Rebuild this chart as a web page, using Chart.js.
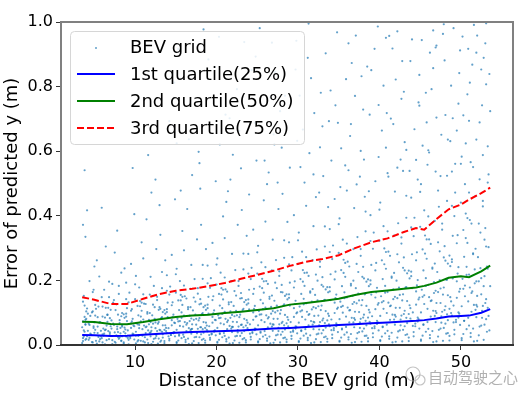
<!DOCTYPE html>
<html>
<head>
<meta charset="utf-8">
<script src="https://cdn.jsdelivr.net/npm/chart.js@4.4.1/dist/chart.umd.min.js"></script>
<style>
  html, body { margin: 0; padding: 0; background: #fff; }
  #wrap { width: 522px; height: 400px; }
</style>
</head>
<body>
<div id="wrap"><canvas id="myChart" width="522" height="400"></canvas></div>
<script>
// BEV grid cells: distance (m), error of predicted y (m) -- flat x,y pairs
var bevGridXY = [
  3.6,.012, 4.1,.027, 5.3,.004, 6.8,.018, 7.9,.025, 4.7,.009, 5.9,.021, 3.9,.016, 7.2,.003, 8.3,.014, 6.1,.029, 4.4,.022, 5.6,.011, 7.6,.007, 3.7,.026, 6.5,.015, 8.0,.019,
  3.8,.041, 4.9,.058, 6.2,.035, 7.4,.062, 5.1,.047, 8.2,.053, 4.3,.066, 6.9,.039, 3.5,.055, 5.8,.044, 7.1,.051, 4.6,.032, 8.4,.061, 6.4,.048, 5.4,.037, 7.8,.057, 3.9,.064,
  4.0,.081, 5.2,.112, 6.6,.094, 7.7,.126, 3.6,.073, 4.8,.104, 6.0,.088, 7.3,.131, 8.1,.077, 5.5,.119, 4.2,.097, 6.3,.085, 7.0,.109, 3.8,.122, 5.7,.071, 8.4,.099, 6.7,.115, 4.5,.090,
  3.7,.152, 4.4,.198, 5.0,.243, 6.2,.171, 7.5,.286, 8.0,.158, 3.9,.335, 5.6,.212, 6.8,.148, 4.1,.417, 7.2,.189, 5.3,.262, 8.3,.224, 3.6,.372, 6.4,.305, 4.8,.164, 7.8,.354, 3.8,.541, 5.9,.425,
  8.6,.008, 9.4,.021, 10.7,.013, 11.9,.027, 12.8,.004, 9.9,.017, 11.2,.024, 13.1,.010, 10.1,.029, 12.3,.019, 8.9,.026, 11.6,.006, 13.4,.023, 10.4,.015, 9.2,.002, 12.6,.028, 11.0,.011,
  9.1,.045, 10.5,.062, 11.8,.038, 12.9,.071, 8.7,.054, 10.9,.049, 12.2,.066, 13.3,.041, 9.6,.073, 11.4,.057, 8.8,.036, 12.5,.052, 10.2,.068, 13.0,.047, 9.8,.033, 11.1,.060, 12.0,.044,
  8.9,.088, 10.3,.121, 11.5,.097, 12.7,.139, 9.5,.106, 13.2,.083, 10.8,.131, 12.1,.092, 9.0,.114, 11.7,.078, 13.4,.102, 10.0,.142, 12.4,.117, 8.6,.095, 11.3,.127, 9.7,.081, 12.9,.109, 10.6,.136,
  9.3,.162, 10.1,.214, 11.0,.268, 12.3,.183, 13.1,.341, 8.7,.237, 9.9,.405, 11.8,.156, 12.6,.297, 10.5,.178, 13.3,.226, 11.4,.389, 9.5,.251, 12.0,.472, 10.8,.318, 8.9,.193, 11.6,.588, 13.0,.433, 9.8,.746,
  13.6,.012, 14.4,.031, 15.7,.021, 16.9,.035, 17.8,.006, 14.9,.027, 16.2,.016, 18.1,.033, 15.1,.009, 17.3,.024, 13.9,.037, 16.6,.003, 18.4,.019, 15.4,.029, 14.2,.014, 17.6,.036, 16.0,.025,
  14.1,.052, 15.5,.074, 16.8,.046, 17.9,.083, 13.7,.061, 15.9,.057, 17.2,.078, 18.3,.049, 14.6,.086, 16.4,.068, 13.8,.043, 17.5,.063, 15.2,.081, 18.0,.055, 14.8,.040, 16.1,.071, 17.0,.050,
  13.9,.102, 15.3,.138, 16.5,.111, 17.7,.159, 14.5,.123, 18.2,.096, 15.8,.149, 17.1,.107, 14.0,.131, 16.7,.091, 18.4,.117, 15.0,.162, 17.4,.134, 13.6,.108, 16.3,.144, 14.7,.094, 17.9,.126, 15.6,.155,
  14.3,.181, 15.1,.236, 16.0,.293, 17.3,.204, 18.1,.372, 13.7,.262, 14.9,.451, 16.8,.174, 17.6,.327, 15.5,.198, 18.3,.248, 16.4,.421, 14.5,.279, 17.0,.526, 15.8,.353, 13.9,.216, 16.6,.637, 18.0,.484, 14.8,.812, 17.8,.598, 15.3,.917,
  18.6,.014, 19.4,.033, 20.7,.024, 21.9,.040, 22.8,.007, 19.9,.030, 21.2,.018, 23.1,.037, 20.1,.010, 22.3,.027, 18.9,.042, 21.6,.004, 23.4,.021, 20.4,.034, 19.2,.016, 22.6,.039, 21.0,.028,
  19.1,.058, 20.5,.084, 21.8,.051, 22.9,.094, 18.7,.069, 20.9,.064, 22.2,.089, 23.3,.055, 19.6,.098, 21.4,.076, 18.8,.047, 22.5,.071, 20.2,.092, 23.0,.062, 19.8,.045, 21.1,.081, 22.0,.056,
  18.9,.114, 20.3,.158, 21.5,.126, 22.7,.183, 19.5,.139, 23.2,.108, 20.8,.171, 22.1,.121, 19.0,.149, 21.7,.104, 23.4,.133, 20.0,.187, 22.4,.153, 18.6,.122, 21.3,.165, 19.7,.107, 22.9,.144, 20.6,.176,
  19.3,.207, 20.1,.268, 21.0,.331, 22.3,.232, 23.1,.418, 18.7,.297, 19.9,.507, 21.8,.198, 22.6,.372, 20.5,.224, 23.3,.283, 21.4,.476, 19.5,.316, 22.0,.589, 20.8,.398, 18.9,.246, 21.6,.702, 23.0,.547, 19.8,.861, 22.8,.663, 20.3,.954, 21.2,.443,
  23.6,.015, 24.4,.037, 25.7,.026, 26.9,.044, 27.8,.008, 24.9,.033, 26.2,.020, 28.1,.041, 25.1,.011, 27.3,.030, 23.9,.046, 26.6,.005, 28.4,.023, 25.4,.038, 24.2,.017, 27.6,.043, 26.0,.031,
  24.1,.064, 25.5,.095, 26.8,.057, 27.9,.108, 23.7,.077, 25.9,.071, 27.2,.101, 28.3,.061, 24.6,.112, 26.4,.086, 23.8,.052, 27.5,.081, 25.2,.105, 28.0,.068, 24.8,.050, 26.1,.092, 27.0,.063,
  23.9,.129, 25.3,.181, 26.5,.143, 27.7,.214, 24.5,.158, 28.2,.122, 25.8,.197, 27.1,.137, 24.0,.171, 26.7,.118, 28.4,.152, 25.0,.221, 27.4,.176, 23.6,.139, 26.3,.189, 24.7,.121, 27.9,.164, 25.6,.205,
  24.3,.239, 25.1,.307, 26.0,.382, 27.3,.263, 28.1,.468, 23.7,.338, 24.9,.571, 26.8,.231, 27.6,.421, 25.5,.256, 28.3,.324, 26.4,.534, 24.5,.357, 27.0,.652, 25.8,.448, 23.9,.282, 26.6,.767, 28.0,.611, 24.8,.893, 27.8,.724, 25.3,.981, 26.2,.498, 27.2,.845,
  28.6,.017, 29.4,.041, 30.7,.029, 31.9,.049, 32.8,.009, 29.9,.036, 31.2,.022, 33.1,.046, 30.1,.012, 32.3,.033, 28.9,.052, 31.6,.006, 33.4,.026, 30.4,.043, 29.2,.019, 32.6,.048, 31.0,.035,
  29.1,.071, 30.5,.107, 31.8,.063, 32.9,.122, 28.7,.086, 30.9,.079, 32.2,.114, 33.3,.068, 29.6,.127, 31.4,.096, 28.8,.058, 32.5,.091, 30.2,.119, 33.0,.076, 29.8,.056, 31.1,.103, 32.0,.070,
  28.9,.146, 30.3,.204, 31.5,.162, 32.7,.242, 29.5,.178, 33.2,.138, 30.8,.223, 32.1,.155, 29.0,.193, 31.7,.134, 33.4,.172, 30.0,.251, 32.4,.199, 28.6,.157, 31.3,.214, 29.7,.137, 32.9,.186, 30.6,.232,
  29.3,.272, 30.1,.348, 31.0,.431, 32.3,.296, 33.1,.523, 28.7,.381, 29.9,.632, 31.8,.263, 32.6,.472, 30.5,.289, 33.3,.367, 31.4,.594, 29.5,.402, 32.0,.718, 30.8,.503, 28.9,.318, 31.6,.826, 33.0,.677, 29.8,.942, 32.8,.781, 30.3,.551, 31.2,.889, 32.2,.458,
  33.6,.019, 34.4,.046, 35.7,.032, 36.9,.055, 37.8,.010, 34.9,.040, 36.2,.024, 38.1,.051, 35.1,.013, 37.3,.037, 33.9,.058, 36.6,.007, 38.4,.029, 35.4,.048, 34.2,.021, 37.6,.053, 36.0,.039,
  34.1,.079, 35.5,.121, 36.8,.070, 37.9,.139, 33.7,.097, 35.9,.088, 37.2,.129, 38.3,.075, 34.6,.145, 36.4,.108, 33.8,.064, 37.5,.102, 35.2,.134, 38.0,.085, 34.8,.062, 36.1,.116, 37.0,.078,
  33.9,.166, 35.3,.232, 36.5,.184, 37.7,.276, 34.5,.203, 38.2,.157, 35.8,.254, 37.1,.176, 34.0,.219, 36.7,.152, 38.4,.196, 35.0,.285, 37.4,.226, 33.6,.179, 36.3,.243, 34.7,.156, 37.9,.211, 35.6,.264,
  34.3,.308, 35.1,.392, 36.0,.478, 37.3,.334, 38.1,.574, 33.7,.427, 34.9,.688, 36.8,.297, 37.6,.521, 35.5,.326, 38.3,.413, 36.4,.647, 34.5,.452, 37.0,.771, 35.8,.556, 33.9,.359, 36.6,.873, 38.0,.729, 34.8,.968, 37.8,.832, 35.3,.609, 36.2,.934, 37.2,.497, 34.0,.788,
  38.6,.021, 39.4,.052, 40.7,.036, 41.9,.063, 42.8,.011, 39.9,.045, 41.2,.027, 43.1,.058, 40.1,.015, 42.3,.042, 38.9,.066, 41.6,.008, 43.4,.033, 40.4,.055, 39.2,.024, 42.6,.061, 41.0,.044,
  39.1,.089, 40.5,.136, 41.8,.079, 42.9,.157, 38.7,.109, 40.9,.099, 42.2,.145, 43.3,.084, 39.6,.163, 41.4,.122, 38.8,.072, 42.5,.115, 40.2,.151, 43.0,.096, 39.8,.070, 41.1,.131, 42.0,.088,
  38.9,.188, 40.3,.262, 41.5,.208, 42.7,.314, 39.5,.231, 43.2,.178, 40.8,.288, 42.1,.199, 39.0,.248, 41.7,.172, 43.4,.222, 40.0,.323, 42.4,.256, 38.6,.203, 41.3,.276, 39.7,.177, 42.9,.239, 40.6,.299,
  39.3,.348, 40.1,.441, 41.0,.532, 42.3,.377, 43.1,.628, 38.7,.476, 39.9,.743, 41.8,.339, 42.6,.574, 40.5,.368, 43.3,.462, 41.4,.701, 39.5,.507, 42.0,.822, 40.8,.611, 38.9,.402, 41.6,.918, 43.0,.784, 39.8,.986, 42.8,.879, 40.3,.664, 41.2,.957, 42.2,.549, 39.0,.851, 40.9,.718,
  43.6,.023, 44.4,.058, 45.7,.041, 46.9,.071, 47.8,.013, 44.9,.051, 46.2,.031, 48.1,.066, 45.1,.017, 47.3,.047, 43.9,.075, 46.6,.009, 48.4,.037, 45.4,.062, 44.2,.027, 47.6,.069, 46.0,.050,
  44.1,.101, 45.5,.154, 46.8,.090, 47.9,.178, 43.7,.123, 45.9,.112, 47.2,.164, 48.3,.095, 44.6,.185, 46.4,.138, 43.8,.082, 47.5,.130, 45.2,.171, 48.0,.108, 44.8,.080, 46.1,.148, 47.0,.099,
  43.9,.213, 45.3,.296, 46.5,.236, 47.7,.357, 44.5,.262, 48.2,.202, 45.8,.327, 47.1,.226, 44.0,.281, 46.7,.195, 48.4,.252, 45.0,.366, 47.4,.290, 43.6,.230, 46.3,.313, 44.7,.201, 47.9,.271, 45.6,.339,
  44.3,.394, 45.1,.498, 46.0,.603, 47.3,.428, 48.1,.712, 43.7,.539, 44.9,.836, 46.8,.384, 47.6,.651, 45.5,.417, 48.3,.524, 46.4,.792, 44.5,.573, 47.0,.927, 45.8,.689, 43.9,.456, 46.6,.974, 48.0,.881, 44.8,.751, 47.8,.963, 45.3,.617, 46.2,.905, 47.2,.478, 44.0,.946, 45.9,.558,
  48.6,.028, 49.4,.071, 50.7,.049, 51.9,.086, 52.8,.016, 49.9,.062, 51.2,.037, 53.1,.080, 50.1,.021, 52.3,.057, 48.9,.091, 51.6,.011, 53.5,.045, 50.4,.075, 49.2,.033, 52.6,.084, 51.0,.060,
  49.1,.122, 50.5,.184, 51.8,.109, 52.9,.213, 48.7,.148, 50.9,.135, 52.2,.197, 53.3,.115, 49.6,.221, 51.4,.166, 48.8,.099, 52.5,.157, 50.2,.205, 53.0,.130, 49.8,.097, 51.1,.178, 52.0,.119,
  48.9,.257, 50.3,.356, 51.5,.284, 52.7,.429, 49.5,.315, 53.2,.243, 50.8,.393, 52.1,.272, 49.0,.338, 51.7,.234, 53.4,.303, 50.0,.441, 52.4,.348, 48.6,.277, 51.3,.376, 49.7,.241, 52.9,.326, 50.6,.407,
  49.3,.472, 50.1,.583, 51.0,.694, 52.3,.513, 53.1,.807, 48.7,.631, 49.9,.912, 51.8,.461, 52.6,.742, 50.5,.498, 53.3,.615, 51.4,.868, 49.5,.664, 52.0,.958, 50.8,.776, 48.9,.537, 51.6,.991, 53.0,.934, 49.8,.842, 52.8,.889, 50.3,.711, 51.2,.566, 53.6,.724, 49.1,.981
];

// the dense band of cells near the bottom
var bevGridLowXY = [
  3.5,.006, 4.0,.019, 4.6,.031, 5.2,.013, 5.8,.027, 6.3,.002, 6.9,.034, 7.5,.010, 8.1,.023, 4.3,.016, 6.0,.008, 7.7,.030,
  3.7,.045, 4.4,.062, 5.0,.038, 5.6,.069, 6.1,.051, 6.7,.043, 7.3,.066, 7.9,.040, 8.4,.057, 4.9,.053, 6.5,.060, 8.2,.036,
  3.9,.078, 4.7,.101, 5.4,.086, 6.0,.119, 6.6,.093, 7.1,.076, 7.6,.108, 8.3,.089, 5.1,.124, 4.1,.113,
  3.6,.134, 4.9,.171, 5.9,.148, 6.8,.196, 7.4,.139, 8.0,.183,
  8.6,.004, 9.1,.022, 9.7,.035, 10.3,.011, 10.9,.029, 11.5,.017, 12.0,.003, 12.6,.033, 13.2,.014, 9.4,.026, 11.2,.008, 12.9,.020,
  8.8,.048, 9.5,.067, 10.1,.041, 10.7,.073, 11.3,.055, 11.9,.039, 12.5,.070, 13.1,.045, 13.4,.061, 9.9,.058, 11.7,.064, 10.5,.052,
  8.7,.084, 9.6,.111, 10.4,.092, 11.1,.128, 11.8,.099, 12.4,.081, 13.0,.117, 9.2,.132, 10.8,.106, 12.2,.125,
  8.9,.142, 10.0,.188, 11.0,.157, 11.9,.211, 12.7,.149, 13.3,.176,
  13.6,.006, 14.1,.027, 14.7,.039, 15.3,.014, 15.9,.032, 16.5,.020, 17.0,.005, 17.6,.040, 18.2,.016, 14.4,.031, 16.2,.009, 17.9,.024,
  13.8,.053, 14.5,.077, 15.1,.047, 15.7,.084, 16.3,.063, 16.9,.049, 17.5,.081, 18.1,.055, 18.4,.071, 14.9,.068, 16.7,.074, 15.5,.059,
  13.7,.097, 14.6,.132, 15.4,.108, 16.1,.151, 16.8,.117, 17.4,.094, 18.0,.142, 14.2,.156, 15.8,.124, 17.2,.147,
  13.9,.168, 15.0,.219, 16.0,.184, 16.9,.248, 17.7,.176, 18.3,.205,
  18.6,.007, 19.1,.031, 19.7,.044, 20.3,.016, 20.9,.037, 21.5,.023, 22.0,.006, 22.6,.046, 23.2,.018, 19.4,.035, 21.2,.011, 22.9,.028,
  18.8,.060, 19.5,.087, 20.1,.053, 20.7,.096, 21.3,.071, 21.9,.056, 22.5,.092, 23.1,.063, 23.4,.081, 19.9,.077, 21.7,.084, 20.5,.067,
  18.7,.109, 19.6,.151, 20.4,.122, 21.1,.172, 21.8,.133, 22.4,.106, 23.0,.161, 19.2,.177, 20.8,.141, 22.2,.167,
  18.9,.191, 20.0,.249, 21.0,.209, 21.9,.282, 22.7,.198, 23.3,.234,
  23.6,.008, 24.1,.035, 24.7,.051, 25.3,.018, 25.9,.043, 26.5,.026, 27.0,.007, 27.6,.053, 28.2,.021, 24.4,.040, 26.2,.013, 27.9,.032,
  23.8,.069, 24.5,.101, 25.1,.061, 25.7,.111, 26.3,.082, 26.9,.064, 27.5,.106, 28.1,.072, 28.4,.093, 24.9,.089, 26.7,.097, 25.5,.077,
  23.7,.125, 24.6,.174, 25.4,.140, 26.1,.198, 26.8,.153, 27.4,.122, 28.0,.186, 24.2,.204, 25.8,.162, 27.2,.193,
  23.9,.221, 25.0,.287, 26.0,.241, 26.9,.326, 27.7,.228, 28.3,.270,
  28.6,.009, 29.1,.040, 29.7,.058, 30.3,.020, 30.9,.049, 31.5,.030, 32.0,.008, 32.6,.061, 33.2,.024, 29.4,.045, 31.2,.015, 32.9,.036,
  28.8,.078, 29.5,.114, 30.1,.069, 30.7,.126, 31.3,.093, 31.9,.072, 32.5,.120, 33.1,.082, 33.4,.105, 29.9,.101, 31.7,.110, 30.5,.087,
  28.7,.141, 29.6,.197, 30.4,.158, 31.1,.224, 31.8,.173, 32.4,.138, 33.0,.210, 29.2,.231, 30.8,.183, 32.2,.218,
  28.9,.250, 30.0,.324, 31.0,.272, 31.9,.368, 32.7,.258, 33.3,.305,
  33.6,.010, 34.1,.046, 34.7,.067, 35.3,.023, 35.9,.056, 36.5,.034, 37.0,.009, 37.6,.070, 38.2,.028, 34.4,.052, 36.2,.017, 37.9,.042,
  33.8,.090, 34.5,.131, 35.1,.080, 35.7,.145, 36.3,.107, 36.9,.083, 37.5,.138, 38.1,.094, 38.4,.121, 34.9,.116, 36.7,.127, 35.5,.100,
  33.7,.163, 34.6,.227, 35.4,.182, 36.1,.258, 36.8,.199, 37.4,.159, 38.0,.242, 34.2,.266, 35.8,.211, 37.2,.251,
  33.9,.288, 35.0,.374, 36.0,.314, 36.9,.424, 37.7,.297, 38.3,.352,
  38.6,.011, 39.1,.052, 39.7,.075, 40.3,.026, 40.9,.063, 41.5,.038, 42.0,.010, 42.6,.079, 43.2,.031, 39.4,.058, 41.2,.019, 42.9,.047,
  38.8,.101, 39.5,.147, 40.1,.090, 40.7,.162, 41.3,.120, 41.9,.093, 42.5,.155, 43.1,.106, 43.4,.136, 39.9,.130, 41.7,.142, 40.5,.112,
  38.7,.182, 39.6,.254, 40.4,.204, 41.1,.289, 41.8,.223, 42.4,.178, 43.0,.271, 39.2,.298, 40.8,.236, 42.2,.281,
  38.9,.322, 40.0,.419, 41.0,.352, 41.9,.475, 42.7,.333, 43.3,.394,
  43.6,.012, 44.1,.059, 44.7,.085, 45.3,.029, 45.9,.071, 46.5,.043, 47.0,.011, 47.6,.089, 48.2,.035, 44.4,.066, 46.2,.021, 47.9,.053,
  43.8,.114, 44.5,.166, 45.1,.101, 45.7,.183, 46.3,.136, 46.9,.105, 47.5,.175, 48.1,.120, 48.4,.154, 44.9,.147, 46.7,.161, 45.5,.127,
  43.7,.206, 44.6,.287, 45.4,.231, 46.1,.327, 46.8,.252, 47.4,.201, 48.0,.306, 44.2,.337, 45.8,.267, 47.2,.318,
  43.9,.364, 45.0,.474, 46.0,.398, 46.9,.537, 47.7,.376, 48.3,.446,
  48.6,.014, 49.1,.070, 49.7,.101, 50.3,.034, 50.9,.084, 51.5,.051, 52.0,.013, 52.6,.106, 53.2,.041, 49.4,.078, 51.2,.025, 52.9,.063,
  48.8,.135, 49.5,.197, 50.1,.120, 50.7,.217, 51.3,.161, 51.9,.124, 52.5,.207, 53.1,.142, 53.6,.182, 49.9,.174, 51.7,.191, 50.5,.151,
  48.7,.244, 49.6,.340, 50.4,.273, 51.1,.387, 51.8,.298, 52.4,.238, 53.0,.362, 49.2,.399, 50.8,.316, 52.2,.376,
  48.9,.431, 50.0,.561, 51.0,.472, 51.9,.636, 52.7,.446, 53.4,.528
];

// more cells under the median
var bevGridDenseXY = [
  3.6,.021, 4.2,.044, 4.8,.008, 5.4,.057, 6.0,.033, 6.6,.072, 7.2,.015, 7.8,.049, 8.4,.027, 3.9,.063, 4.5,.035, 5.1,.091, 5.7,.018, 6.3,.046, 6.9,.083, 7.5,.039, 8.1,.068, 4.0,.104, 5.5,.025, 7.0,.058, 8.3,.012, 3.8,.087, 6.4,.115, 7.9,.094, 5.0,.070,
  8.6,.041, 9.2,.016, 9.8,.060, 10.4,.028, 11.0,.079, 11.6,.045, 12.2,.010, 12.8,.066, 13.4,.033, 8.9,.097, 9.5,.053, 10.1,.005, 10.7,.088, 11.3,.037, 11.9,.071, 12.5,.021, 13.1,.112, 9.0,.074, 10.6,.120, 12.0,.055, 13.3,.086, 9.7,.031, 11.5,.102, 12.7,.043, 10.3,.064,
  13.6,.047, 14.2,.019, 14.8,.069, 15.4,.032, 16.0,.091, 16.6,.052, 17.2,.012, 17.8,.076, 18.4,.038, 13.9,.111, 14.5,.061, 15.1,.006, 15.7,.101, 16.3,.043, 16.9,.082, 17.5,.025, 18.1,.128, 14.0,.086, 15.6,.138, 17.0,.064, 18.3,.099, 14.7,.036, 16.5,.117, 17.7,.050, 15.3,.073,
  18.6,.053, 19.2,.022, 19.8,.078, 20.4,.036, 21.0,.103, 21.6,.059, 22.2,.014, 22.8,.086, 23.4,.043, 18.9,.125, 19.5,.069, 20.1,.007, 20.7,.114, 21.3,.049, 21.9,.093, 22.5,.028, 23.1,.145, 19.0,.097, 20.6,.156, 22.0,.072, 23.3,.112, 19.7,.041, 21.5,.132, 22.7,.057, 20.3,.083,
  23.6,.060, 24.2,.025, 24.8,.088, 25.4,.041, 26.0,.116, 26.6,.066, 27.2,.016, 27.8,.097, 28.4,.048, 23.9,.141, 24.5,.078, 25.1,.008, 25.7,.129, 26.3,.055, 26.9,.105, 27.5,.032, 28.1,.163, 24.0,.110, 25.6,.176, 27.0,.081, 28.3,.126, 24.7,.046, 26.5,.149, 27.7,.064, 25.3,.094,
  28.6,.067, 29.2,.028, 29.8,.098, 30.4,.045, 31.0,.129, 31.6,.074, 32.2,.018, 32.8,.108, 33.4,.054, 28.9,.157, 29.5,.087, 30.1,.009, 30.7,.143, 31.3,.061, 31.9,.117, 32.5,.035, 33.1,.181, 29.0,.122, 30.6,.196, 32.0,.090, 33.3,.140, 29.7,.051, 31.5,.166, 32.7,.071, 30.3,.104,
  33.6,.076, 34.2,.032, 34.8,.112, 35.4,.051, 36.0,.147, 36.6,.084, 37.2,.020, 37.8,.123, 38.4,.061, 33.9,.179, 34.5,.099, 35.1,.010, 35.7,.163, 36.3,.070, 36.9,.133, 37.5,.040, 38.1,.206, 34.0,.139, 35.6,.223, 37.0,.103, 38.3,.160, 34.7,.058, 36.5,.189, 37.7,.081, 35.3,.118,
  38.6,.085, 39.2,.036, 39.8,.125, 40.4,.057, 41.0,.164, 41.6,.094, 42.2,.023, 42.8,.138, 43.4,.068, 38.9,.200, 39.5,.111, 40.1,.012, 40.7,.183, 41.3,.078, 41.9,.149, 42.5,.045, 43.1,.231, 39.0,.156, 40.6,.250, 42.0,.115, 43.3,.179, 39.7,.065, 41.5,.212, 42.7,.091, 40.3,.132,
  43.6,.096, 44.2,.040, 44.8,.141, 45.4,.064, 46.0,.186, 46.6,.106, 47.2,.026, 47.8,.156, 48.4,.077, 43.9,.227, 44.5,.125, 45.1,.013, 45.7,.207, 46.3,.088, 46.9,.168, 47.5,.051, 48.1,.261, 44.0,.176, 45.6,.283, 47.0,.130, 48.3,.202, 44.7,.073, 46.5,.240, 47.7,.103, 45.3,.149,
  48.6,.112, 49.2,.047, 49.8,.165, 50.4,.075, 51.0,.218, 51.6,.124, 52.2,.030, 52.8,.182, 53.4,.090, 48.9,.265, 49.5,.146, 50.1,.015, 50.7,.242, 51.3,.103, 51.9,.197, 52.5,.060, 53.1,.305, 49.0,.206, 50.6,.331, 52.0,.152, 53.3,.236, 49.7,.085, 51.5,.281, 52.7,.121, 50.3,.174
];

// sparse cells with large errors
var bevGridHighXY = [
  12.5,.512, 14.2,.693, 15.6,.478, 16.8,.745, 17.9,.563, 19.0,.884, 20.4,.621, 21.7,.512, 22.5,.792, 23.4,.938, 24.0,.466, 24.7,.688,
  25.9,.571, 26.8,.936, 27.5,.503, 28.4,.772, 29.0,.549, 29.7,.853, 30.6,.667, 31.3,.995, 31.9,.528, 32.7,.612, 33.4,.903, 34.1,.571,
  34.6,.742, 35.2,.489, 35.9,.823, 36.5,.684, 37.1,.958, 37.7,.601, 38.2,.459, 38.8,.713, 39.4,.917, 39.9,.582, 40.5,.803, 41.1,.521,
  41.7,.684, 42.2,.971, 42.7,.762, 43.3,.604, 43.8,.879, 44.3,.668, 44.7,.512, 45.2,.944, 45.7,.781, 46.1,.596, 46.6,.857, 47.0,.704,
  47.5,.523, 47.9,.993, 48.4,.636, 48.8,.803, 49.3,.561, 49.7,.747, 50.2,.955, 50.6,.624, 51.1,.812, 51.5,.551, 51.9,.905, 52.3,.689,
  52.7,.588, 53.1,.996, 53.5,.839, 53.3,.503, 52.5,.853, 50.9,.917, 49.0,.702, 46.9,.921, 44.9,.741, 42.9,.539, 40.8,.951, 38.5,.862,
  36.2,.541, 33.8,.693, 30.2,.772, 27.1,.621, 24.3,.851, 21.1,.713, 18.4,.977, 15.1,.624, 9.7,.548
];

// quartile curves
var qDist = [3.5, 5, 7, 9, 11, 13, 15, 17, 19, 21, 23, 25, 27, 29, 31, 33, 35, 37, 39, 41, 43, 44.5, 45.5, 47, 48.5, 50, 51, 52.5, 53.6];
var q25 = [.031, .030, .028, .029, .032, .035, .038, .040, .042, .043, .045, .048, .051, .053, .056, .059, .062, .064, .067, .070, .073, .075, .077, .082, .088, .090, .091, .100, .111];
var q50 = [.072, .071, .065, .064, .071, .080, .087, .091, .094, .099, .103, .108, .114, .125, .130, .136, .143, .155, .164, .169, .174, .178, .183, .193, .208, .213, .210, .228, .246];
var q75 = [.148, .140, .127, .127, .143, .158, .168, .174, .182, .192, .205, .217, .230, .245, .258, .266, .278, .300, .318, .330, .350, .362, .357, .390, .420, .435, .450, .470, .487];

var xTicks = [10, 20, 30, 40, 50];
var yTicks = [0, 0.2, 0.4, 0.6, 0.8, 1.0];
var legendLabels = ["BEV grid", "1st quartile(25%)", "2nd quartile(50%)", "3rd quartile(75%)"];

var gridPoints = [];
[bevGridXY, bevGridLowXY, bevGridDenseXY, bevGridHighXY].forEach(function (arr) {
    for (var i = 0; i < arr.length; i += 2) {
        gridPoints.push({ x: arr[i], y: arr[i + 1] });
    }
});

function curve(vals) {
    return qDist.map(function (d, k) { return { x: d, y: vals[k] }; });
}

Chart.defaults.font.family = "'DejaVu Sans', sans-serif";
Chart.defaults.color = "#000";

// matplotlib-ish frame, inner legend and the watermark
var framePlugin = {
    id: 'frame',
    afterDatasetsDraw: function (chart) {
        var ctx = chart.ctx;
        var a = chart.chartArea;
        ctx.save();

        // spines
        ctx.strokeStyle = "#808080";
        ctx.lineWidth = 2;
        ctx.beginPath();
        ctx.moveTo(a.left, a.bottom);
        ctx.lineTo(a.left, a.top);
        ctx.lineTo(a.right, a.top);
        ctx.lineTo(a.right, a.bottom);
        ctx.stroke();
        ctx.strokeStyle = "#333";
        ctx.beginPath();
        ctx.moveTo(a.left - 1, a.bottom);
        ctx.lineTo(a.right + 1, a.bottom);
        ctx.stroke();

        // legend box
        var bx = 70.5, by = 31.5, bw = 234, bh = 113, r = 4;
        ctx.beginPath();
        ctx.moveTo(bx + r, by);
        ctx.arcTo(bx + bw, by, bx + bw, by + bh, r);
        ctx.arcTo(bx + bw, by + bh, bx, by + bh, r);
        ctx.arcTo(bx, by + bh, bx, by, r);
        ctx.arcTo(bx, by, bx + bw, by, r);
        ctx.closePath();
        ctx.fillStyle = "rgba(255,255,255,0.85)";
        ctx.fill();
        ctx.strokeStyle = "#d6d6d6";
        ctx.lineWidth = 1;
        ctx.stroke();

        var rows = [47, 74, 101, 128];
        var ds = chart.data.datasets;
        ctx.font = "18px 'DejaVu Sans'";
        ctx.textBaseline = "middle";
        ctx.textAlign = "left";
        for (var k = 0; k < rows.length; k++) {
            var d = ds[k];
            if (k === 0) {
                ctx.fillStyle = d.backgroundColor;
                ctx.beginPath();
                ctx.arc(96, rows[k] + 1, 1, 0, Math.PI * 2);
                ctx.fill();
            } else {
                ctx.strokeStyle = d.borderColor;
                ctx.lineWidth = d.borderWidth;
                ctx.setLineDash(d.borderDash || []);
                ctx.beginPath();
                ctx.moveTo(77, rows[k]);
                ctx.lineTo(115, rows[k]);
                ctx.stroke();
                ctx.setLineDash([]);
            }
            ctx.fillStyle = "#000";
            ctx.fillText(legendLabels[k], 130, rows[k] + 1);
        }

        ctx.restore();
    },
    afterDraw: function (chart) {
        var ctx = chart.ctx;
        ctx.save();
        ctx.font = "15px 'Noto Sans CJK SC'";
        ctx.fillStyle = "rgba(150,150,150,0.75)";
        ctx.textBaseline = "middle";
        ctx.fillText("自动驾驶之心", 428, 377);
        ctx.strokeStyle = "rgba(170,170,170,0.7)";
        ctx.lineWidth = 1.2;
        ctx.beginPath();
        ctx.arc(413, 374, 7, 0, Math.PI * 2);
        ctx.stroke();
        ctx.beginPath();
        ctx.arc(420, 380, 5, 0, Math.PI * 2);
        ctx.stroke();
        ctx.restore();
    }
};

var ctx = document.getElementById("myChart");
var chart = new Chart(ctx, {
    type: 'scatter',
    data: {
        datasets: [{
            label: legendLabels[0],
            data: gridPoints,
            backgroundColor: "rgba(31,119,180,0.7)",
            borderWidth: 0,
            pointRadius: 1.1,
            order: 10
        }, {
            label: legendLabels[1],
            data: curve(q25),
            showLine: true,
            borderColor: "#0000ff",
            borderWidth: 2,
            pointRadius: 0,
            order: 3
        }, {
            label: legendLabels[2],
            data: curve(q50),
            showLine: true,
            borderColor: "#008000",
            borderWidth: 2,
            pointRadius: 0,
            order: 2
        }, {
            label: legendLabels[3],
            data: curve(q75),
            showLine: true,
            borderColor: "#ff0000",
            borderWidth: 2,
            borderDash: [7, 3],
            pointRadius: 0,
            order: 1
        }]
    },
    options: {
        responsive: false,
        animation: false,
        events: [],
        layout: { padding: { top: 22, right: 9, left: 0, bottom: 0 } },
        plugins: {
            legend: { display: false },
            tooltip: { enabled: false }
        },
        scales: {
            x: {
                type: 'linear',
                min: 0.9,
                max: 56.4,
                afterFit: function (s) { s.height = 55; },
                afterBuildTicks: function (s) { s.ticks = xTicks.map(function (v) { return { value: v }; }); },
                ticks: { font: { size: 16 }, padding: 3, color: "#000", maxRotation: 0 },
                grid: { display: true, drawOnChartArea: false, drawTicks: true, tickLength: 5, color: "#333", lineWidth: 1 },
                border: { display: false },
                title: { display: true, text: "Distance of the BEV grid (m)", font: { size: 18 }, color: "#000", padding: { top: 0, bottom: 8 } }
            },
            y: {
                type: 'linear',
                min: 0,
                max: 1,
                afterFit: function (s) { s.width = 61; },
                afterBuildTicks: function (s) { s.ticks = yTicks.map(function (v) { return { value: v }; }); },
                ticks: { font: { size: 16 }, padding: 3, color: "#000", callback: function (v) { return v.toFixed(1); } },
                grid: { display: true, drawOnChartArea: false, drawTicks: true, tickLength: 5, color: "#333", lineWidth: 1 },
                border: { display: false },
                title: { display: true, text: "Error of predicted y (m)", font: { size: 18 }, color: "#000", padding: { top: 2, bottom: 0 } }
            }
        }
    },
    plugins: [framePlugin]
});
</script>
</body>
</html>
